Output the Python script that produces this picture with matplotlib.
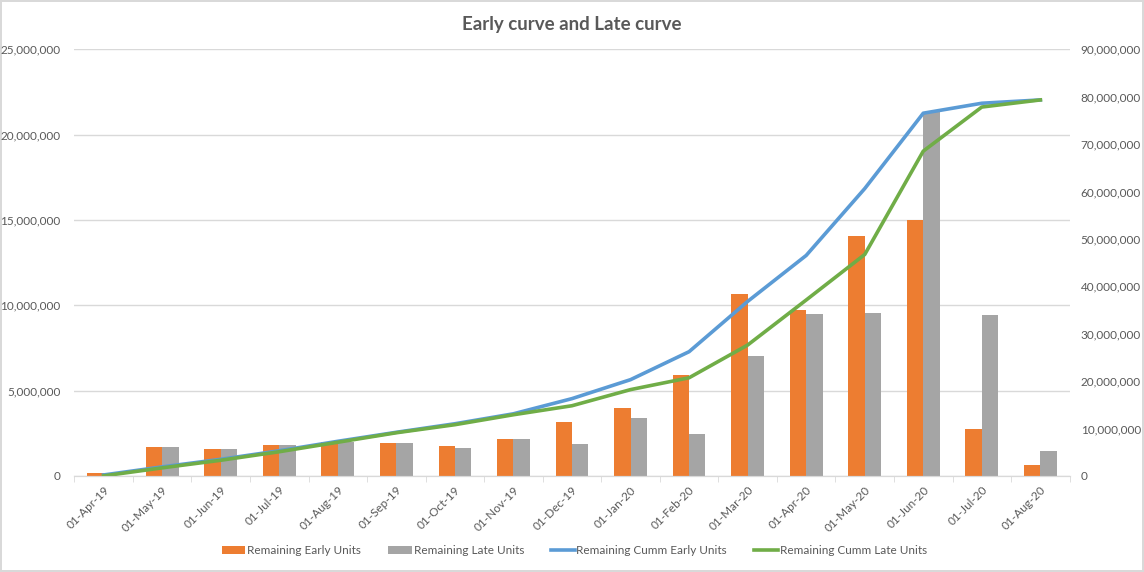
import numpy as np
import matplotlib.pyplot as plt
from matplotlib.ticker import FuncFormatter, MultipleLocator

plt.rcParams['font.family'] = ['Lato', 'DejaVu Sans']

# Данные
months = ['01-Apr-19', '01-May-19', '01-Jun-19', '01-Jul-19', '01-Aug-19', '01-Sep-19',
          '01-Oct-19', '01-Nov-19', '01-Dec-19', '01-Jan-20', '01-Feb-20', '01-Mar-20',
          '01-Apr-20', '01-May-20', '01-Jun-20', '01-Jul-20', '01-Aug-20']
early_units = [180000, 1700000, 1600000, 1800000, 2000000, 1950000, 1750000, 2150000,
               3150000, 4000000, 5900000, 10650000, 9700000, 14050000, 15000000,
               2750000, 650000]
late_units = [0, 1700000, 1600000, 1800000, 2000000, 1950000, 1650000, 2150000,
              1850000, 3400000, 2450000, 7050000, 9500000, 9550000, 21300000,
              9400000, 1450000]
cumm_early = [200000, 1900000, 3500000, 5300000, 7300000, 9200000, 11000000, 13100000,
              16300000, 20300000, 26200000, 36800000, 46500000, 60600000, 76500000,
              78600000, 79300000]
cumm_late = [0, 1700000, 3300000, 5100000, 7100000, 9100000, 10800000, 12900000,
             14800000, 18200000, 20700000, 27600000, 37100000, 46700000, 68500000,
             77800000, 79300000]

text_col = '#595959'
grid_col = '#d9d9d9'

fig = plt.figure(figsize=(11.44, 5.72), dpi=100)
fig.patch.set_edgecolor('#d9d9d9')
fig.patch.set_linewidth(1.5)
ax = fig.add_axes([0.065, 0.168, 0.87, 0.746])
ax2 = ax.twinx()

x = np.arange(len(months))
w = 0.28
ax.bar(x - w / 2, early_units, w, color='#ED7D31', label='Remaining Early Units', zorder=2)
ax.bar(x + w / 2, late_units, w, color='#A5A5A5', label='Remaining Late Units', zorder=2)
ax2.plot(x, cumm_early, color='#5B9BD5', lw=2.6, label='Remaining Cumm Early Units')
ax2.plot(x, cumm_late, color='#70AD47', lw=2.6, label='Remaining Cumm Late Units')

ax.set_xlim(-0.5, len(months) - 0.5)
ax.set_ylim(0, 25000000)
ax2.set_ylim(0, 90000000)
ax.yaxis.set_major_locator(MultipleLocator(5000000))
ax2.yaxis.set_major_locator(MultipleLocator(10000000))
fmt = FuncFormatter(lambda v, p: f'{int(v):,}')
ax.yaxis.set_major_formatter(fmt)
ax2.yaxis.set_major_formatter(fmt)

ax.grid(axis='y', color=grid_col, lw=1, zorder=0)
ax.set_axisbelow(True)
for a in (ax, ax2):
    for s in ('top', 'left', 'right'):
        a.spines[s].set_visible(False)
    a.spines['bottom'].set_color(grid_col)
    a.tick_params(axis='y', length=0, labelcolor=text_col, labelsize=8.5)
ax.tick_params(axis='y', pad=10)
ax2.tick_params(axis='y', pad=8)

ax.set_xticks(x)
ax.set_xticklabels(months, rotation=45, ha='right', rotation_mode='anchor')
ax.tick_params(axis='x', length=0, labelcolor=text_col, labelsize=8.5, pad=6)
ax.set_xticks(np.arange(-0.5, len(months), 1), minor=True)
ax.tick_params(axis='x', which='minor', length=4, color=grid_col)

ax.set_title('Early curve and Late curve', color=text_col, fontsize=13.5,
             fontweight='bold', pad=14)

h1, l1 = ax.get_legend_handles_labels()
h2, l2 = ax2.get_legend_handles_labels()
fig.legend(h1 + h2, l1 + l2, loc='center', bbox_to_anchor=(0.502, 0.037), ncol=4,
           frameon=False, fontsize=8.5, labelcolor=text_col, handlelength=2.0,
           handleheight=0.6, columnspacing=2.3, handletextpad=0.15)

fig.savefig('out.png', dpi=100, edgecolor=fig.get_edgecolor())
